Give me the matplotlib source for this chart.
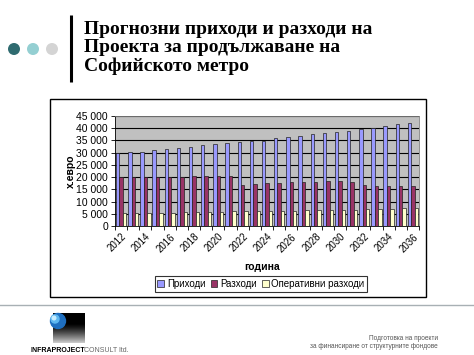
import matplotlib
matplotlib.use("Agg")
import matplotlib.pyplot as plt
import numpy as np
from matplotlib.patches import Rectangle, Circle
from matplotlib.ticker import FuncFormatter, MultipleLocator

years = list(range(2012, 2037))
prihodi = [29700, 30100, 30300, 31000, 31400, 32100, 32500, 33200, 33400, 34000,
           34300, 34900, 34900, 35900, 36600, 36800, 37700, 38200, 38300, 39000,
           39800, 40200, 41100, 41600, 42300]
razhodi = [20000, 20000, 20000, 20000, 20000, 20000, 20300, 20300, 20300, 20300,
           16600, 17200, 17500, 17500, 18000, 18000, 18000, 18300, 18300, 18100,
           16600, 16200, 16200, 16400, 16400]
operativni = [5300, 5400, 5300, 5500, 5500, 5600, 5800, 5900, 5900, 6000,
              6100, 6200, 6200, 6300, 6300, 6400, 6500, 6500, 6600, 6700,
              6800, 6800, 7000, 7200, 7400]
series_names = ["Приходи", "Разходи", "Оперативни разходи"]
year_labels = [str(y) for y in years]

W, H = 474, 355
fig = plt.figure(figsize=(W / 100, H / 100), dpi=100)
fig.patch.set_facecolor("white")

# overlay axes in pixel coordinates
ov = fig.add_axes([0, 0, 1, 1])
ov.axis("off")

# decorative dots
for cx, col in [(14, "#2f6b70"), (33, "#94cfd2"), (52, "#d4d4d4")]:
    ov.add_patch(Circle((cx, 49), 6, color=col, lw=0))
# vertical line
ov.plot([71, 71], [15, 82], color="black", lw=2.2, solid_capstyle="butt")
# title
title_lines = ["Прогнозни приходи и разходи на",
               "Проекта за продължаване на",
               "Софийското метро"]
for i, t in enumerate(title_lines):
    ov.text(84, 30 + i * 18, t, fontsize=14, fontweight="bold",
            family="Liberation Serif", va="center", ha="left")

# chart border box
ov.add_patch(Rectangle((50, 99), 376, 198, fill=False, ec="black", lw=1.0))
# footer separator
ov.plot([0, W], [305, 305], color="#a8b0b4", lw=1.0)

# logo
grad = np.linspace(0, 1, 60).reshape(-1, 1)
grad = np.clip((grad - 0.35) / 0.65, 0, 1) ** 1.3
ov.imshow(grad, cmap="gray", vmin=0, vmax=1.25, extent=(53, 85, 343, 313),
          aspect="auto", zorder=2)
ov.add_patch(Circle((58, 321), 7.5, color="#1f6fc0", zorder=3))
ov.add_patch(Circle((55, 319), 4, color="#5fb8f0", zorder=4))
ov.add_patch(Circle((54, 318), 1.8, color="#c8eeff", zorder=5))
ov.text(31, 350, "INFRAPROJECT", fontsize=5, fontweight="bold",
        family="Liberation Sans", va="center", ha="left")
ov.text(84, 350, "CONSULT ltd.", fontsize=5, color="#666666",
        family="Liberation Sans", va="center", ha="left")
ov.text(438, 338, "Подготовка на проекти", fontsize=4.7, color="#555555",
        family="Liberation Sans", va="center", ha="right")
ov.text(438, 347, "за финансиране от структурните фондове", fontsize=4.7,
        color="#555555", family="Liberation Sans", va="center", ha="right")
ov.set_xlim(0, W)
ov.set_ylim(H, 0)

# main chart
left, right, top, bottom = 115, 419, 116, 226
ax = fig.add_axes([left / W, 1 - bottom / H, (right - left) / W, (bottom - top) / H])
ax.set_facecolor("#c0c0c0")
x = np.arange(len(years))
bw = 0.28
cols = ["#9999ff", "#993366", "#ffffcc"]
for k, (vals, col) in enumerate(zip([prihodi, razhodi, operativni], cols)):
    ax.bar(x + (k - 1) * bw, vals, width=bw, color=col, edgecolor="#222222",
           linewidth=0.5, label=series_names[k], zorder=3)
ax.set_ylim(0, 45000)
ax.set_xlim(-0.5, len(years) - 0.5)
ax.yaxis.set_major_locator(MultipleLocator(5000))
ax.yaxis.set_major_formatter(FuncFormatter(lambda v, p: f"{int(v):,}".replace(",", " ")))
ax.grid(axis="y", color="black", lw=0.8, zorder=1)
ax.set_xticks(x[::2])
ax.set_xticklabels(year_labels[::2], rotation=45, ha="right", rotation_mode="anchor",
                   family="Liberation Sans", fontsize=7)
ax.set_xticks(np.arange(-0.5, len(years)), minor=True)
ax.tick_params(axis="x", which="major", length=0, pad=4)
ax.tick_params(axis="x", which="minor", length=3, width=0.6)
ax.tick_params(axis="y", length=3, width=0.6, labelsize=7.5, pad=2)
for lbl in ax.get_yticklabels():
    lbl.set_family("Liberation Sans")
for s in ["top", "right"]:
    ax.spines[s].set_color("#808080")
    ax.spines[s].set_linewidth(0.6)
ax.spines["left"].set_linewidth(0.6)
ax.spines["bottom"].set_linewidth(0.6)

ov.text(71, 171, "х.евро", rotation=90, fontsize=7.5, fontweight="bold",
        family="Liberation Sans", va="center", ha="center")
ov.text(262, 267, "година", fontsize=7.5, fontweight="bold",
        family="Liberation Sans", va="center", ha="center")

leg = ax.legend(loc="center", bbox_to_anchor=(261 / W, 1 - 284 / H),
                bbox_transform=fig.transFigure, ncol=3, frameon=True,
                fancybox=False, edgecolor="black",
                prop={"family": "Liberation Sans", "size": 7},
                handlelength=0.7, handleheight=0.7, handletextpad=0.3,
                columnspacing=0.5, borderpad=0.3, borderaxespad=0)
leg.get_frame().set_linewidth(0.8)

fig.savefig("out.png", dpi=100, facecolor="white")
